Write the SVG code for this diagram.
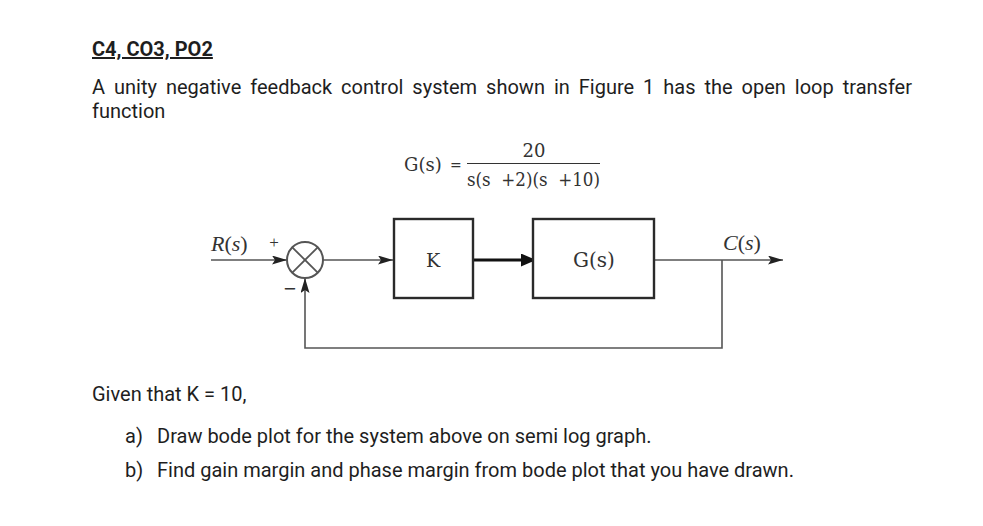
<svg xmlns="http://www.w3.org/2000/svg" width="983" height="526" viewBox="0 0 983 526">
<defs>
<style>
.t{font-family:Roboto,"Liberation Sans",sans-serif;font-size:20px;fill:#1e1e1e}
.s{font-family:"DejaVu Serif","Liberation Serif",serif;fill:#333}
.m{font-family:"Liberation Serif","DejaVu Serif",serif;fill:#333}
.ln{stroke:#555;stroke-width:1.6;fill:none}
.bx{stroke:#2a2a2a;stroke-width:2.4;fill:#fff}
</style>
<marker id="ah" viewBox="0 0 15 9" refX="15" refY="4.5" markerWidth="15" markerHeight="9" markerUnits="userSpaceOnUse" orient="auto">
<path d="M0,0 L15,4.5 L0,9 L3,4.5 z" fill="#222"/>
</marker>
<marker id="ahb" viewBox="0 0 15 13" refX="15" refY="6.5" markerWidth="15" markerHeight="13" markerUnits="userSpaceOnUse" orient="auto">
<path d="M0,0 L15,6.5 L0,13 z" fill="#111"/>
</marker>
</defs>
<rect width="983" height="526" fill="#fff"/>

<g id="header">
<text class="t" x="92" y="56" font-weight="bold" text-decoration="underline">C4, CO3, PO2</text>
</g>

<g id="intro" class="t">
<text x="92" y="94" word-spacing="4">A unity negative feedback control system shown in Figure 1 has the open loop transfer</text>
<text x="92" y="118">function</text>
</g>

<g id="formula" class="s" font-size="18">
<text x="404" y="171">G(s)</text>
<text x="450" y="170" font-size="14">=</text>
<line x1="467" y1="163.5" x2="600" y2="163.5" stroke="#333" stroke-width="1.2"/>
<text x="534" y="157" text-anchor="middle">20</text>
<text x="467" y="186" textLength="133" lengthAdjust="spacingAndGlyphs" xml:space="preserve">s(s  +2)(s  +10)</text>
</g>

<g id="connectors">
<line class="ln" x1="211" y1="260" x2="287" y2="260" marker-end="url(#ah)"/>
<line class="ln" x1="323" y1="260" x2="393" y2="260" marker-end="url(#ah)"/>
<line x1="474" y1="260" x2="536" y2="260" stroke="#111" stroke-width="3.2" marker-end="url(#ahb)"/>
<line class="ln" x1="654" y1="260" x2="783" y2="260" marker-end="url(#ah)"/>
<polyline class="ln" points="722,260 722,348 305,348 305,278" marker-end="url(#ah)"/>
</g>

<g id="sum">
<circle cx="305" cy="260" r="18" fill="#fff" stroke="#555" stroke-width="2"/>
<line x1="292.3" y1="247.3" x2="317.7" y2="272.7" stroke="#555" stroke-width="1.8"/>
<line x1="317.7" y1="247.3" x2="292.3" y2="272.7" stroke="#555" stroke-width="1.8"/>
<text class="m" x="274" y="248" font-size="17" text-anchor="middle">+</text>
<text class="m" x="290" y="296" font-size="22" font-weight="bold" text-anchor="middle">−</text>
</g>

<g id="R">
<text class="m" x="211" y="251" font-size="22"><tspan font-style="italic">R</tspan>(<tspan font-style="italic">s</tspan>)</text>
</g>

<g id="blockK">
<rect class="bx" x="394" y="219" width="79" height="79"/>
<text class="s" x="433" y="267" font-size="19" text-anchor="middle">K</text>
</g>

<g id="blockG">
<rect class="bx" x="533" y="219" width="121" height="79"/>
<text class="s" x="594" y="267" font-size="20" text-anchor="middle">G(s)</text>
</g>

<g id="C">
<text class="m" x="723" y="250" font-size="22"><tspan font-style="italic">C</tspan>(<tspan font-style="italic">s</tspan>)</text>
</g>

<g id="questions" class="t">
<text x="92" y="401">Given that K = 10,</text>
<text x="125" y="443">a)</text>
<text x="157" y="443">Draw bode plot for the system above on semi log graph.</text>
<text x="125" y="477">b)</text>
<text x="157" y="477">Find gain margin and phase margin from bode plot that you have drawn.</text>
</g>
</svg>
